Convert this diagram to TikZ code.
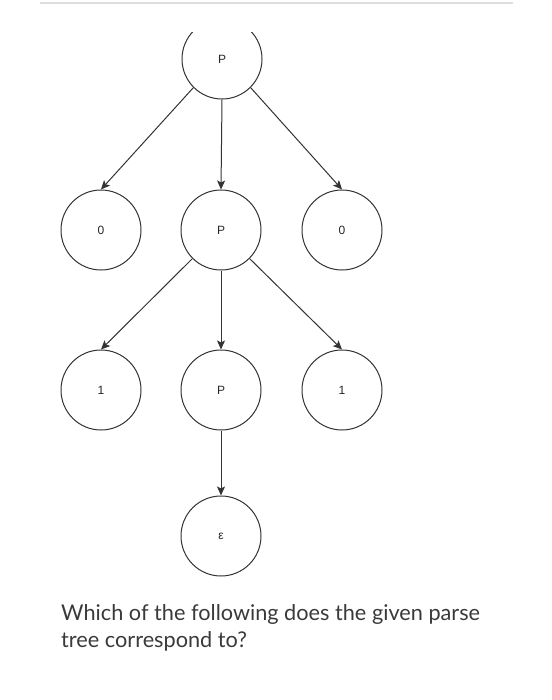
\documentclass[tikz,border=0pt]{standalone}
\usepackage{fontspec}
\setmainfont{Lato}
\newfontfamily\nodefont{Liberation Sans}
\usetikzlibrary{arrows.meta}
\definecolor{linegray}{HTML}{333333}
\definecolor{rulegray}{HTML}{DDDDDD}
\definecolor{textgray}{HTML}{3A3A3A}
\tikzset{
  tnode/.style={circle, draw=linegray, line width=1pt, minimum size=80pt, inner sep=0pt, font=\nodefont\fontsize{12}{14}\selectfont, text=black!85},
  edge/.style={draw=linegray, line width=1pt, -{Stealth[length=9pt,width=8pt,inset=2pt]}}
}
\begin{document}
\begin{tikzpicture}[x=1pt,y=-1pt]
\useasboundingbox (0,0) rectangle (551,700);
\draw[rulegray, line width=2pt] (40,3) -- (513,3);
\begin{scope}
  \clip (0,33) rectangle (551,700);
  \node[tnode] (r) at (222,59) {P};
\end{scope}
\node[tnode] (a0) at (101,230) {0};
\node[tnode] (ap) at (221,230) {P};
\node[tnode] (a1) at (342,230) {0};
\node[tnode] (b0) at (101,390) {1};
\node[tnode] (bp) at (221,390) {P};
\node[tnode] (b1) at (342,390) {1};
\node[tnode] (e) at (221,536) {ε};
\draw[edge] (r.south west) -- (a0.north);
\draw[edge] (r.south) -- (ap.north);
\draw[edge] (r.south east) -- (a1.north);
\draw[edge] (ap.south west) -- (b0.north);
\draw[edge] (ap.south) -- (bp.north);
\draw[edge] (ap.south east) -- (b1.north);
\draw[edge] (bp.south) -- (e.north);
\node[anchor=base west, inner sep=0pt, text=textgray, font=\fontsize{21.7}{27}\selectfont] (q1) at (61,620) {Which of the following does the given parse};
\node[anchor=base west, inner sep=0pt, text=textgray, font=\fontsize{21.7}{27}\selectfont] (q2) at (61,647) {tree correspond to?};
\end{tikzpicture}
\end{document}
